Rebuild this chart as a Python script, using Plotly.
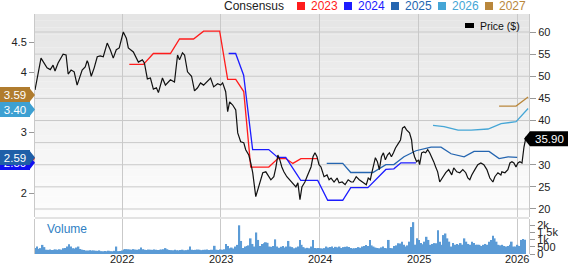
import plotly.graph_objects as go
import pandas as pd

# ---------------- data ----------------
price_years = [2021.115, 2021.176, 2021.237, 2021.27, 2021.298, 2021.318, 2021.349, 2021.400, 2021.430,
               2021.451, 2021.481, 2021.512, 2021.542, 2021.593, 2021.624, 2021.644, 2021.654, 2021.685,
               2021.715, 2021.746, 2021.776, 2021.807, 2021.847, 2021.878, 2021.908, 2021.939, 2021.969,
               2022.010, 2022.041, 2022.061, 2022.112, 2022.163, 2022.203, 2022.224, 2022.254, 2022.285,
               2022.315, 2022.346, 2022.366, 2022.407, 2022.437, 2022.488, 2022.529, 2022.560, 2022.580,
               2022.610, 2022.631, 2022.661, 2022.702, 2022.732, 2022.763, 2022.793, 2022.824, 2022.895,
               2022.926, 2022.966, 2022.997, 2023.017, 2023.048, 2023.068, 2023.088, 2023.119, 2023.150,
               2023.170, 2023.200, 2023.231, 2023.251, 2023.282, 2023.302, 2023.322, 2023.353, 2023.384,
               2023.424, 2023.455, 2023.485, 2023.506, 2023.536, 2023.556, 2023.577, 2023.597, 2023.617,
               2023.638, 2023.668, 2023.699, 2023.729, 2023.760, 2023.780, 2023.801, 2023.821, 2023.851,
               2023.872, 2023.892, 2023.913, 2023.933, 2023.953, 2023.974, 2023.994, 2024.014, 2024.045,
               2024.075, 2024.096, 2024.116, 2024.146, 2024.177, 2024.197, 2024.228, 2024.258, 2024.289,
               2024.319, 2024.340, 2024.370, 2024.401, 2024.441, 2024.472, 2024.492, 2024.513, 2024.523,
               2024.543, 2024.564, 2024.584, 2024.604, 2024.625, 2024.645, 2024.665, 2024.686, 2024.706,
               2024.726, 2024.747, 2024.767, 2024.798, 2024.818, 2024.838, 2024.859, 2024.879, 2024.909,
               2024.930, 2024.940, 2024.960, 2024.981, 2025.001, 2025.011, 2025.032, 2025.052, 2025.072,
               2025.093, 2025.113, 2025.133, 2025.154, 2025.174, 2025.194, 2025.215, 2025.245, 2025.276,
               2025.306, 2025.337, 2025.357, 2025.388, 2025.418, 2025.449, 2025.479, 2025.500, 2025.520,
               2025.540, 2025.571, 2025.601, 2025.632, 2025.662, 2025.693, 2025.723, 2025.754, 2025.774,
               2025.805, 2025.835, 2025.845, 2025.876, 2025.906, 2025.927, 2025.947, 2025.967, 2025.988,
               2026.008, 2026.028, 2026.049, 2026.069, 2026.090, 2026.105]
price_values = [46.9, 54.1, 51.9, 51.5, 52.5, 51.2, 53.0, 55.0, 54.8,
                50.5, 51.4, 51.0, 48.0, 51.4, 52.1, 53.5, 53.0, 50.0,
                51.9, 54.4, 54.6, 54.4, 57.5, 56.0, 54.1, 56.0, 56.4,
                60.0, 58.6, 56.4, 55.5, 53.2, 53.7, 53.0, 49.4, 49.6,
                47.1, 47.4, 46.3, 49.6, 48.0, 49.2, 48.7, 54.8, 53.7,
                55.3, 54.8, 51.0, 50.0, 46.7, 47.4, 48.5, 48.0, 49.6,
                47.6, 48.3, 48.0, 48.5, 46.5, 42.0, 44.2, 43.5, 42.4,
                37.2, 35.2, 35.0, 33.4, 32.2, 30.4, 28.2, 22.8, 25.0,
                28.2, 28.4, 27.3, 26.6, 27.3, 29.3, 32.2, 31.1, 29.5,
                28.4, 27.3, 26.6, 25.9, 25.0, 25.9, 22.1, 25.0, 26.1,
                27.3, 28.2, 29.5, 31.8, 32.7, 31.8, 30.0, 29.5, 27.3,
                27.7, 26.6, 27.0, 26.1, 27.0, 25.9, 26.1, 25.5, 26.6,
                26.1, 26.1, 27.3, 26.6, 25.9, 25.5, 27.0, 26.6, 27.7,
                29.3, 31.6, 30.7, 28.9, 31.8, 32.7, 31.1, 32.2, 32.7,
                31.8, 32.7, 33.8, 34.9, 35.6, 38.3, 38.6, 37.9, 37.2,
                35.6, 33.4, 31.8, 30.7, 31.1, 30.0, 32.7, 32.9, 32.7,
                33.4, 32.7, 31.8, 30.7, 29.5, 28.4, 26.1, 27.3, 28.2,
                28.9, 27.7, 29.3, 28.4, 28.2, 28.9, 28.2, 27.0, 26.6,
                27.7, 28.9, 30.0, 30.4, 30.0, 28.9, 27.0, 26.1, 27.3,
                28.2, 27.7, 28.4, 28.2, 28.9, 30.4, 30.7, 30.4, 29.5,
                30.4, 30.7, 30.4, 34.0, 36.3, 35.9]

eps2023_years = [2022.071, 2022.214, 2022.315, 2022.488, 2022.580, 2022.722, 2022.824, 2022.987,
                 2023.068, 2023.150, 2023.231, 2023.302, 2023.485, 2023.577, 2023.658, 2023.729,
                 2023.811, 2023.984]
eps2023_values = [4.13, 4.13, 4.31, 4.31, 4.55, 4.55, 4.68, 4.68,
                  3.88, 3.88, 3.68, 2.43, 2.43, 2.57, 2.57, 2.49, 2.57, 2.57]

eps2024_years = [2023.078, 2023.149, 2023.230, 2023.321, 2023.484, 2023.576, 2023.657, 2023.809,
                 2023.981, 2024.082, 2024.234, 2024.315, 2024.488, 2024.670, 2024.751, 2024.822, 2024.974]
eps2024_values = [4.31, 4.31, 3.95, 2.72, 2.72, 2.59, 2.59, 2.21,
                  2.21, 1.88, 1.88, 2.09, 2.09, 2.39, 2.40, 2.50, 2.50]

eps2025_years = [2024.072, 2024.234, 2024.315, 2024.539, 2024.670, 2024.751, 2024.853, 2024.974,
                 2025.127, 2025.228, 2025.330, 2025.462, 2025.563, 2025.715, 2025.817, 2025.908, 2026.000]
eps2025_values = [2.49, 2.49, 2.34, 2.34, 2.47, 2.47, 2.60, 2.70,
                  2.76, 2.76, 2.65, 2.60, 2.69, 2.69, 2.57, 2.60, 2.59]

eps2026_years = [2025.147, 2025.259, 2025.401, 2025.533, 2025.705, 2025.837, 2025.989, 2026.111]
eps2026_values = [3.12, 3.10, 3.04, 3.04, 3.06, 3.15, 3.18, 3.40]

eps2027_years = [2025.817, 2025.989, 2026.111]
eps2027_values = [3.44, 3.44, 3.59]

volume_start = "2021-02-12"
volume_2021 = [420, 520, 360, 410, 635, 480, 300, 290, 310, 280, 300, 320, 290, 330, 300, 400, 420, 520,
               680, 520, 400, 380, 450, 520, 350, 300, 280, 250, 250, 270, 240, 250, 230, 220, 250, 200,
               190, 210, 200, 230, 200, 190, 220, 520, 200, 210]
volume_2022 = [250, 320, 340, 330, 320, 300, 340, 310, 290, 330, 450, 330, 300, 280, 310, 300, 290, 320,
               300, 280, 300, 310, 330, 410, 330, 280, 270, 260, 290, 270, 250, 280, 300, 260, 270, 300,
               520, 300, 280, 290, 310, 300, 270, 290, 300, 320, 280, 300, 290, 570, 300, 280]
volume_2023 = [320, 300, 330, 700, 560, 400, 450, 380, 520, 635, 2000, 910, 420, 520, 560, 600, 1090, 700,
               520, 1500, 980, 560, 700, 750, 820, 780, 520, 500, 560, 1020, 520, 430, 500, 560, 450, 520,
               910, 520, 480, 400, 450, 520, 980, 640, 480, 400, 430, 400, 520, 980, 420, 400]
volume_2024 = [420, 400, 380, 410, 520, 450, 480, 520, 420, 500, 460, 520, 420, 480, 500, 520, 480, 420,
               380, 400, 420, 480, 430, 520, 560, 635, 560, 980, 600, 520, 450, 420, 400, 460, 520, 420,
               400, 980, 420, 400, 560, 600, 750, 740, 860, 640, 520, 600, 860, 1880, 2220, 650]
volume_2025 = [1090, 980, 760, 680, 860, 1200, 980, 640, 700, 760, 750, 1650, 860, 640, 1320, 1430, 1090,
               860, 520, 760, 640, 700, 640, 760, 650, 1090, 860, 700, 640, 860, 760, 640, 650, 640, 560,
               640, 700, 640, 860, 980, 1270, 1090, 860, 640, 600, 640, 560, 520, 560, 640, 860, 520]
volume_2026 = [520, 640, 560, 980, 1045, 1000]

eps_ticks = [2, 3, 4, 4.5]
price_ticks = [20, 25, 30, 40, 45, 50, 55, 60]
volume_tickvals = [0, 500, 1000, 1500, 2000]
volume_ticktext = ["0", "500", "1k", "1.5k", "2k"]
year_ticks = ["2022", "2023", "2024", "2025", "2026"]
grid_prices = [20, 25, 30, 35, 40, 45, 50, 55, 60]

series_names = ["2023", "2024", "2025", "2026", "2027"]
series_colors = ["#ff1c1c", "#1c1cff", "#2465b0", "#45a6d6", "#b9873c"]
label_colors = ["#e0302a", "#1010f0", "#1f5fa8", "#3da0d2", "#b07c2e"]

# ---------------- helpers ----------------
def to_date(y):
    yr = int(y)
    start = pd.Timestamp(yr, 1, 1)
    end = pd.Timestamp(yr + 1, 1, 1)
    return start + (end - start) * (y - yr)

def dates(years):
    return [to_date(v) for v in years]

volume_values = volume_2021 + volume_2022 + volume_2023 + volume_2024 + volume_2025 + volume_2026
volume_dates = pd.date_range(volume_start, periods=len(volume_values), freq="7D")

FONT = "Arial, Liberation Sans, sans-serif"
WIDTH, HEIGHT = 568, 264
L, R, T, B = 35, 529, 14, 254
PW, PH = R - L, B - T
MAIN_BOTTOM, VOL_TOP = 217, 219
main_dom = [(B - MAIN_BOTTOM) / PH, 1.0]
vol_dom = [0.0, (B - VOL_TOP) / PH]
eps_range = [1.603, 4.964]
price_range = [18.19, 64.07]
vol_range = [0, 2440]
x_range = [to_date(2021.115), to_date(2026.12)]

def px_x(p):
    return (p - L) / PW

def px_y(p):
    return (B - p) / PH

def eps_paper(v):
    return main_dom[0] + (v - eps_range[0]) / (eps_range[1] - eps_range[0]) * (main_dom[1] - main_dom[0])

def price_paper(v):
    return main_dom[0] + (v - price_range[0]) / (price_range[1] - price_range[0]) * (main_dom[1] - main_dom[0])

fig = go.Figure()

eps_series = [(eps2023_years, eps2023_values), (eps2024_years, eps2024_values),
              (eps2025_years, eps2025_values), (eps2026_years, eps2026_values),
              (eps2027_years, eps2027_values)]

fig.add_trace(go.Scatter(x=dates(price_years), y=price_values, mode="lines",
                         line=dict(color="#111111", width=1.2), yaxis="y2", xaxis="x",
                         showlegend=False, hoverinfo="skip"))
for (yrs, vals), name, col in zip(eps_series, series_names, series_colors):
    fig.add_trace(go.Scatter(x=dates(yrs), y=vals, mode="lines", name=name,
                             line=dict(color=col, width=1.3), yaxis="y", xaxis="x",
                             showlegend=False, hoverinfo="skip"))

fig.add_trace(go.Bar(x=volume_dates, y=volume_values, xaxis="x2", yaxis="y3",
                     marker=dict(color="#5b9bd6", line=dict(width=0)),
                     showlegend=False, hoverinfo="skip"))

shapes = []
# gradient background of the main panel
N = 30
for i in range(N):
    c = int(254 - (254 - 229) * (i + 0.5) / N)
    shapes.append(dict(type="rect", xref="x domain", yref="y domain", x0=0, x1=1,
                       y0=i / N, y1=(i + 1) / N, fillcolor=f"rgb({c},{c},{c})",
                       line=dict(width=0), layer="below"))
grid = "#c9c9c9"
# horizontal price gridlines (including the one hidden behind the price label)
for gp in grid_prices:
    shapes.append(dict(type="line", xref="x domain", yref="y2", x0=0, x1=1, y0=gp, y1=gp,
                       line=dict(color=grid, width=1), layer="below"))
# separator band between panels
shapes.append(dict(type="rect", xref="paper", yref="paper", x0=0, x1=1,
                   y0=px_y(VOL_TOP), y1=px_y(MAIN_BOTTOM), fillcolor="#e3e3e3",
                   line=dict(width=0), layer="below"))

annotations = []
# top legend
LEG_Y = 6
annotations.append(dict(text="Consensus", xref="paper", yref="paper", x=px_x(286), y=px_y(LEG_Y),
                        xanchor="right", yanchor="middle", showarrow=False,
                        font=dict(family=FONT, size=12, color="#222222")))
leg_x = 297
for name, col in zip(series_names, series_colors):
    shapes.append(dict(type="rect", xref="paper", yref="paper", x0=px_x(leg_x), x1=px_x(leg_x + 8),
                       y0=px_y(LEG_Y + 4), y1=px_y(LEG_Y - 4), fillcolor=col, line=dict(width=0)))
    annotations.append(dict(text=name, xref="paper", yref="paper", x=px_x(leg_x + 12), y=px_y(LEG_Y),
                            xanchor="left", yanchor="middle", showarrow=False,
                            font=dict(family=FONT, size=12, color=col)))
    leg_x += 47

# price legend inside plot
shapes.append(dict(type="rect", xref="paper", yref="paper", x0=px_x(465), x1=px_x(474),
                   y0=px_y(28), y1=px_y(23), fillcolor="#000000", line=dict(width=0)))
annotations.append(dict(text="Price ($)", xref="paper", yref="paper", x=px_x(478), y=px_y(25.5),
                        xanchor="left", yanchor="middle", showarrow=False,
                        font=dict(family=FONT, size=10.5, color="#111111")))

# volume label
annotations.append(dict(text="Volume", xref="paper", yref="paper", x=px_x(45), y=px_y(229),
                        xanchor="left", yanchor="middle", showarrow=False,
                        font=dict(family=FONT, size=12, color="#2f7fc4")))

# year labels under the volume panel
for t in year_ticks:
    annotations.append(dict(text=t, xref="x2", yref="paper", x=pd.Timestamp(int(t), 1, 1), y=px_y(259),
                            xanchor="center", yanchor="middle", showarrow=False,
                            font=dict(family=FONT, size=11, color="#222222")))

# left value labels (last consensus values); drawn so that the 2025 label ends up on top
label_order = [0, 1, 3, 4, 2]
label_shift = {0: 0, 1: 0, 2: 0, 3: -1, 4: 2}
for idx in label_order:
    yrs, vals = eps_series[idx]
    v = vals[-1]
    yp = eps_paper(v) + label_shift[idx] / PH
    shapes.append(dict(type="path", xref="paper", yref="paper", xsizemode="pixel", ysizemode="pixel",
                       xanchor=0, yanchor=yp, path="M-6,-7.5 L0,0 L-6,7.5 Z",
                       fillcolor=label_colors[idx], line=dict(width=0)))
    annotations.append(dict(text=f"{v:.2f}" if idx != 0 else " ", xref="paper", yref="paper",
                            x=0, y=yp, xshift=-5,
                            xanchor="right", yanchor="middle", showarrow=False,
                            width=30, height=15, align="center", borderpad=0, borderwidth=0,
                            bgcolor=label_colors[idx],
                            font=dict(family=FONT, size=11.5, color="#ffffff")))

# right price label
last_price = price_values[-1]
ypp = price_paper(last_price)
shapes.append(dict(type="path", xref="paper", yref="paper", xsizemode="pixel", ysizemode="pixel",
                   xanchor=1, yanchor=ypp, path="M-5,0 L1,-7.5 L39,-7.5 L39,7.5 L1,7.5 Z",
                   fillcolor="#000000", line=dict(width=0)))
annotations.append(dict(text=f"{last_price:.2f}", xref="paper", yref="paper", x=1, y=ypp, xshift=20,
                        xanchor="center", yanchor="middle", showarrow=False,
                        font=dict(family=FONT, size=11.5, color="#ffffff")))

year_vals = [pd.Timestamp(int(t), 1, 1) for t in year_ticks]
tickfont = dict(family=FONT, size=11, color="#222222")

fig.update_layout(
    width=WIDTH, height=HEIGHT,
    margin=dict(l=L, r=WIDTH - R, t=T, b=HEIGHT - B, pad=0, autoexpand=False),
    paper_bgcolor="#ffffff", plot_bgcolor="#ffffff",
    showlegend=False, bargap=0.12,
    shapes=shapes, annotations=annotations,
    xaxis=dict(domain=[0, 1], anchor="y", range=x_range, type="date", automargin=False,
               tickvals=year_vals, showticklabels=False,
               showgrid=True, gridcolor=grid, gridwidth=1, ticks="",
               showline=False, zeroline=False),
    xaxis2=dict(domain=[0, 1], anchor="y3", range=x_range, type="date", matches="x", automargin=False,
                tickvals=year_vals, showticklabels=False,
                showgrid=True, gridcolor=grid, gridwidth=1, ticks="",
                showline=False, zeroline=False),
    yaxis=dict(domain=main_dom, anchor="x", range=eps_range, side="left", automargin=False,
               tickvals=eps_ticks, showgrid=False, zeroline=False,
               ticks="outside", ticklen=5, tickcolor="#999999",
               tickfont=tickfont, showline=True, linecolor=grid, linewidth=1, mirror=True),
    yaxis2=dict(overlaying="y", anchor="x", range=price_range, side="right", automargin=False,
                tickvals=price_ticks, showgrid=False, zeroline=False,
                ticks="outside", ticklen=6, tickcolor="#999999", tickfont=tickfont,
                showline=False),
    yaxis3=dict(domain=vol_dom, anchor="x2", range=vol_range, side="right", automargin=False,
                tickvals=volume_tickvals, ticktext=volume_ticktext, showgrid=False,
                zeroline=False, ticks="outside", ticklen=5, tickcolor="#999999",
                tickfont=dict(family=FONT, size=11, color="#222222"),
                showline=True, linecolor=grid, linewidth=1, mirror=True),
)

fig.write_html("out.html")
